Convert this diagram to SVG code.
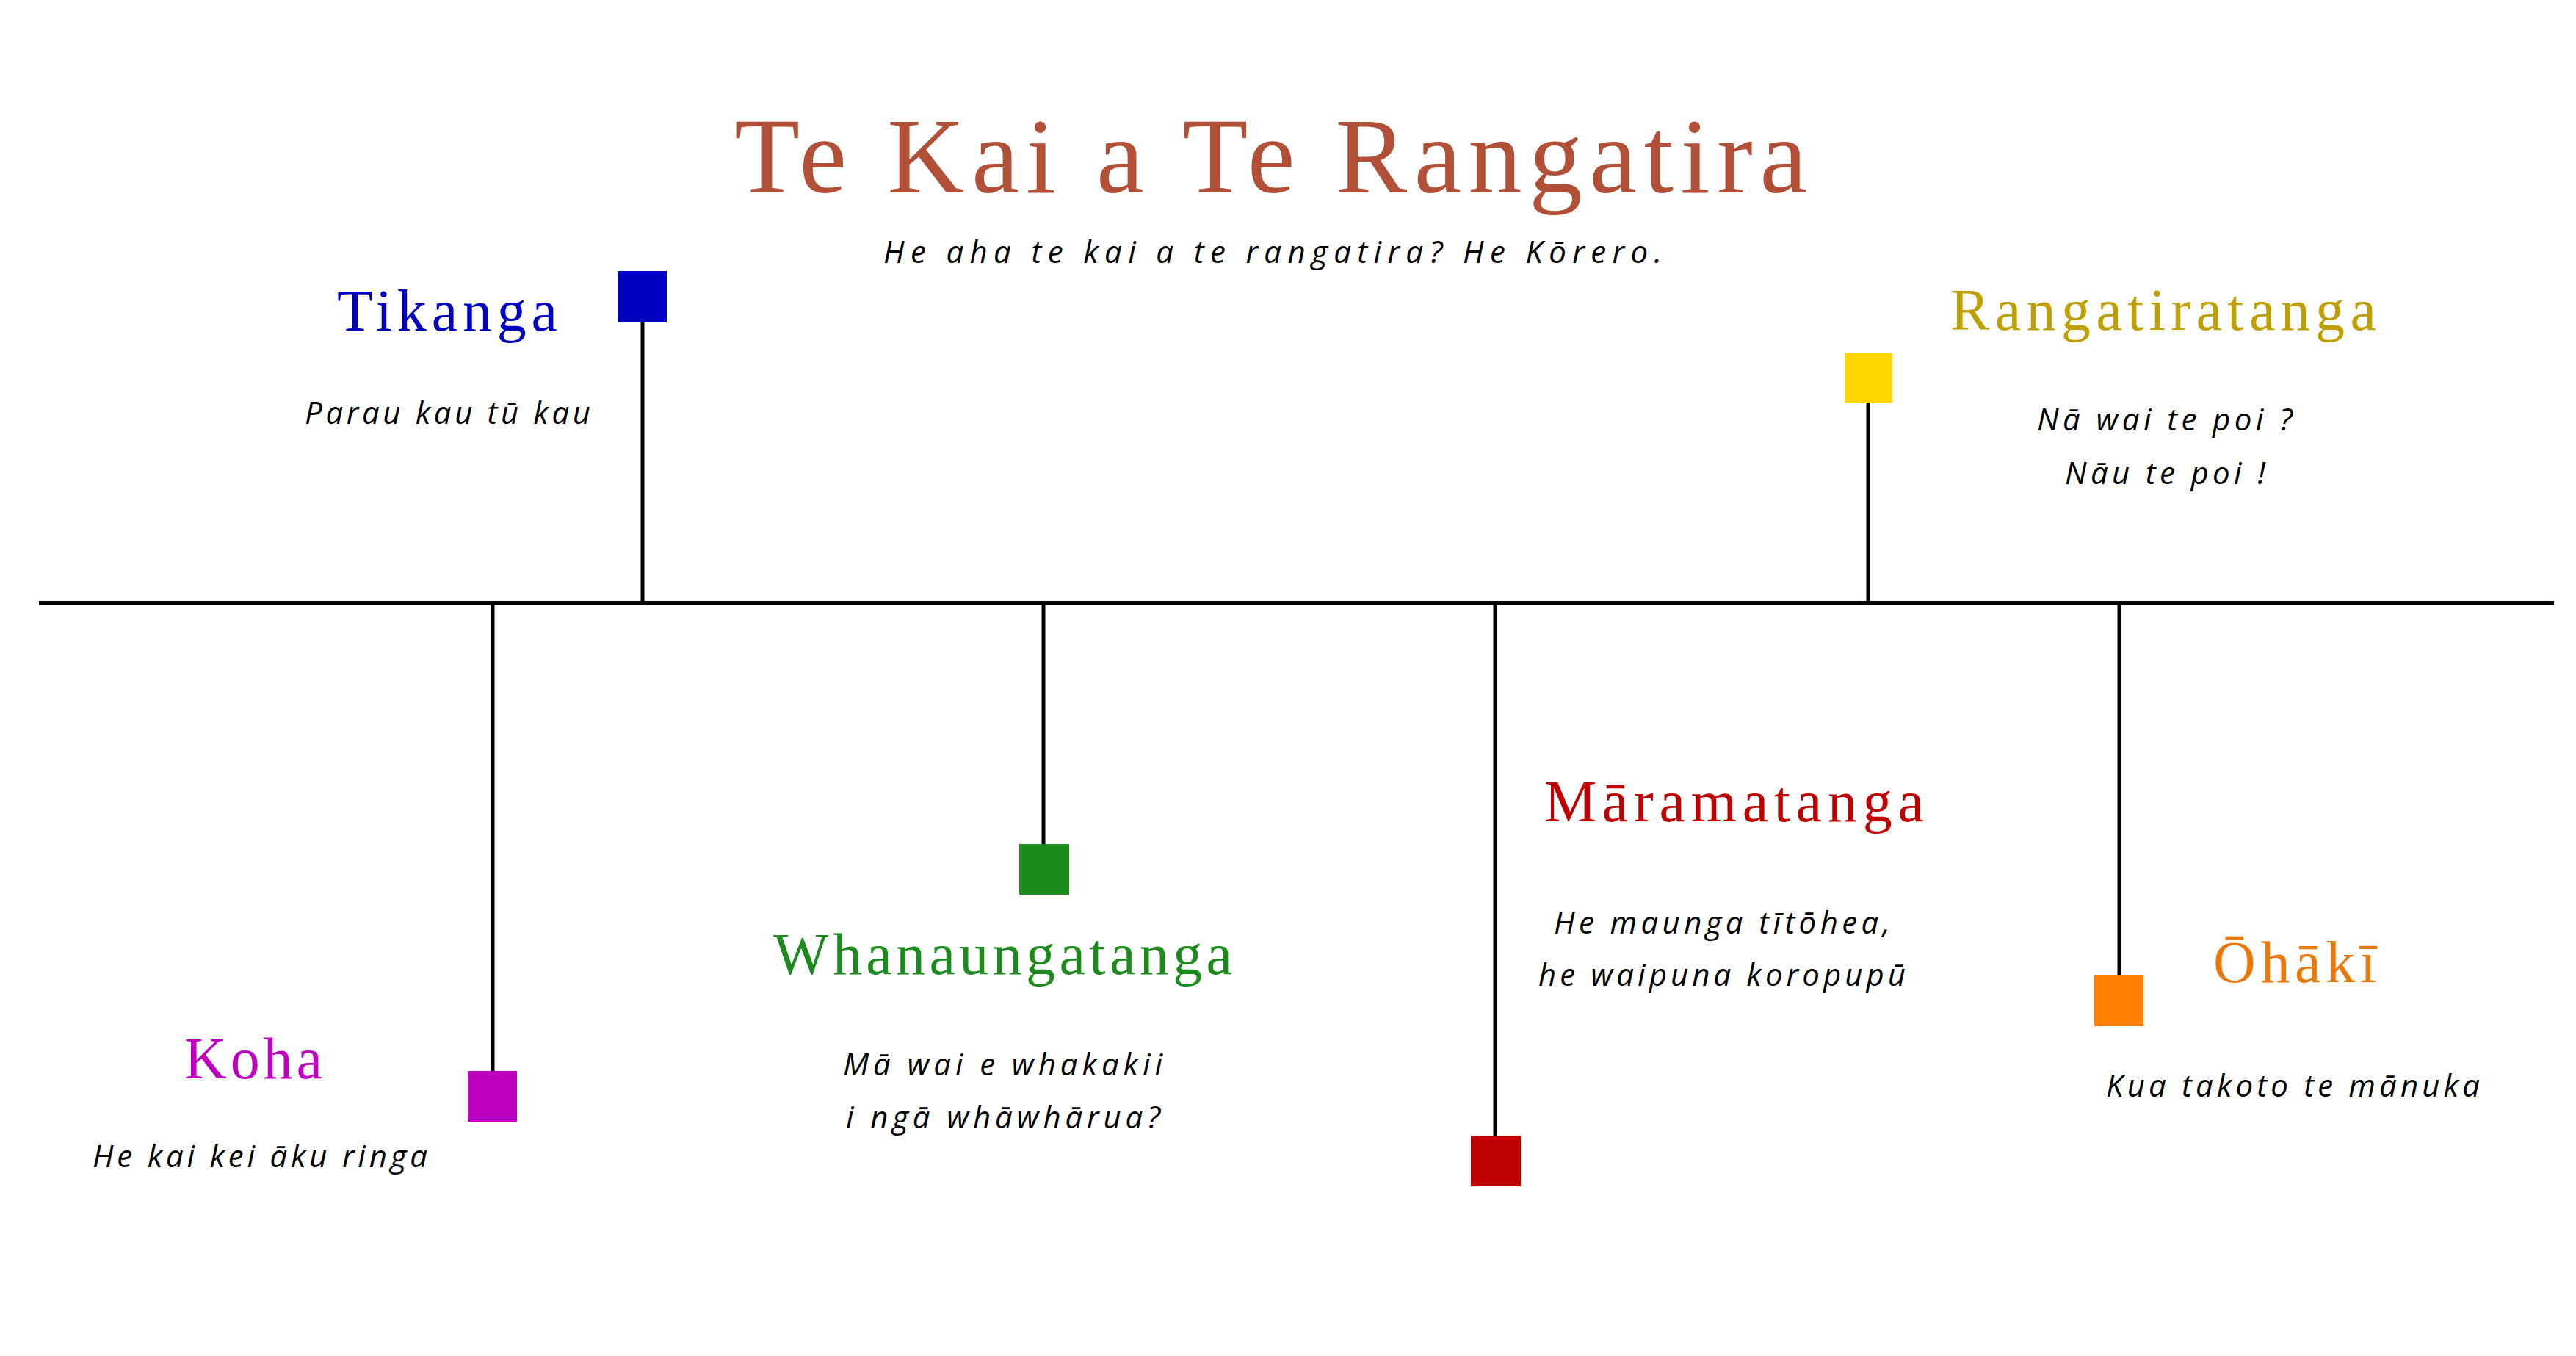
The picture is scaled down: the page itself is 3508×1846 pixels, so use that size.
<svg xmlns="http://www.w3.org/2000/svg" width="3508" height="1846" viewBox="0 0 3508 1846">
<style>
.title{font-family:"Liberation Serif","Times New Roman",serif;font-size:146px;fill:#B24F37}
.head{font-family:"Liberation Serif","Times New Roman",serif;font-size:80px}
.sub{font-family:"Open Sans","Liberation Sans",sans-serif;font-style:italic;font-size:42px;fill:#000}
.stem{stroke:#000;stroke-width:5;fill:none}
.axis{stroke:#000;stroke-width:6;fill:none}
</style>
<rect width="3508" height="1846" fill="#fff"/>
<g id="title">
<text class="title" x="1000" y="262" textLength="1461" lengthAdjust="spacing">Te Kai a Te Rangatira</text>
<text class="sub" x="1203" y="358" textLength="1060" lengthAdjust="spacing">He aha te kai a te rangatira? He Kōrero.</text>
</g>
<g id="connectors">
<line class="axis" x1="53" y1="821" x2="3478" y2="821"/>
<line class="stem" x1="875" y1="439" x2="875" y2="821"/>
<line class="stem" x1="671" y1="821" x2="671" y2="1458"/>
<line class="stem" x1="1421" y1="821" x2="1421" y2="1149"/>
<line class="stem" x1="2036" y1="821" x2="2036" y2="1546"/>
<line class="stem" x1="2544" y1="548" x2="2544" y2="821"/>
<line class="stem" x1="2886" y1="821" x2="2886" y2="1328"/>
</g>
<g id="tikanga">
<rect x="841" y="369" width="67" height="70" fill="#0000C0"/>
<text class="head" x="459" y="450" fill="#0000C0" textLength="300" lengthAdjust="spacing">Tikanga</text>
<text class="sub" x="415" y="577" textLength="389" lengthAdjust="spacing">Parau kau tū kau</text>
</g>
<g id="koha">
<rect x="637" y="1458" width="67" height="69" fill="#C000C0"/>
<text class="head" x="251" y="1468" fill="#C000C0" textLength="188" lengthAdjust="spacing">Koha</text>
<text class="sub" x="126" y="1589" textLength="456" lengthAdjust="spacing">He kai kei āku ringa</text>
</g>
<g id="whanaungatanga">
<rect x="1388" y="1149" width="68" height="69" fill="#1C8A1C"/>
<text class="head" x="1053" y="1326" fill="#1C8A1C" textLength="625" lengthAdjust="spacing">Whanaungatanga</text>
<text class="sub" x="1148" y="1464" textLength="435" lengthAdjust="spacing">Mā wai e whakakii</text>
<text class="sub" x="1152" y="1536" textLength="428" lengthAdjust="spacing">i ngā whāwhārua?</text>
</g>
<g id="maramatanga">
<rect x="2003" y="1546" width="68" height="69" fill="#BF0000"/>
<text class="head" x="2103" y="1118" fill="#C00000" textLength="517" lengthAdjust="spacing">Māramatanga</text>
<text class="sub" x="2116" y="1271" textLength="458" lengthAdjust="spacing">He maunga tītōhea,</text>
<text class="sub" x="2095" y="1342" textLength="500" lengthAdjust="spacing">he waipuna koropupū</text>
</g>
<g id="rangatiratanga">
<rect x="2512" y="480" width="65" height="68" fill="#FFD700"/>
<text class="head" x="2656" y="449" fill="#BFA000" textLength="580" lengthAdjust="spacing">Rangatiratanga</text>
<text class="sub" x="2774" y="586" textLength="348" lengthAdjust="spacing">Nā wai te poi ?</text>
<text class="sub" x="2812" y="659" textLength="273" lengthAdjust="spacing">Nāu te poi !</text>
</g>
<g id="ohaki">
<rect x="2852" y="1328" width="67" height="69" fill="#FF8000"/>
<text class="head" x="3014" y="1337" fill="#E8780A" textLength="222" lengthAdjust="spacing">Ōhākī</text>
<text class="sub" x="2868" y="1493" textLength="509" lengthAdjust="spacing">Kua takoto te mānuka</text>
</g>
</svg>
